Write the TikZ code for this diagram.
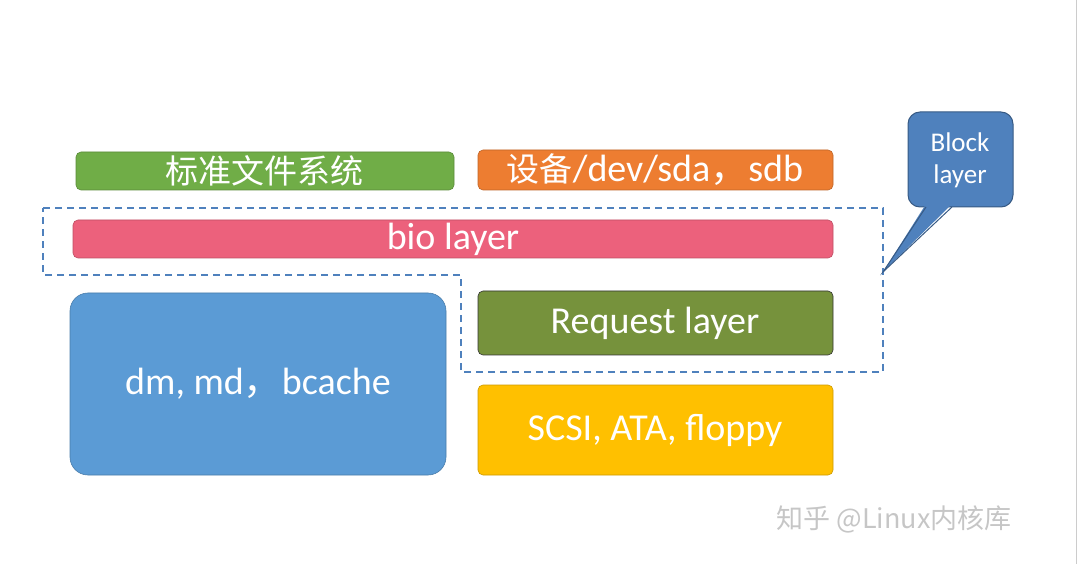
\documentclass[tikz,border=0pt]{standalone}
\usepackage{fontspec}
\setmainfont{Carlito}
\newfontfamily\cjk{Noto Sans CJK SC}
\begin{document}
\begin{tikzpicture}[x=1pt,y=-1pt,
  box/.style={rounded corners=5pt,draw=#1!80!black,line width=0.6pt,fill=#1,text=white,inner sep=0pt},
  lbl/.style={text=white,font=\fontsize{38}{40}\selectfont}]
\useasboundingbox (0,0) rectangle (1080,564);
\definecolor{cgreen}{RGB}{112,173,71}
\definecolor{corange}{RGB}{237,125,49}
\definecolor{cpink}{RGB}{236,97,124}
\definecolor{cblue}{RGB}{91,155,213}
\definecolor{colive}{RGB}{118,146,60}
\definecolor{cyellow}{RGB}{255,192,0}
\definecolor{ccall}{RGB}{79,129,189}
\draw[gray!40] (1076,0) -- (1076,564);
\draw[box=cgreen] (76,152) rectangle (454,190);
\node[lbl,font=\cjk\fontsize{33}{35}\selectfont] (fs) at (264,171) {标准文件系统};
\draw[box=corange] (478,150) rectangle (833,190);
\node[lbl] (dev) at (655,170) {{\cjk\fontsize{33}{35}\selectfont 设备}/dev/sda{\cjk ，}sdb};
\draw[box=cpink] (73,220) rectangle (833,258);
\node[lbl] (bio) at (453,239) {bio layer};
\draw[box=cblue,rounded corners=18pt] (70,293) rectangle (446,475);
\node[lbl] (dm) at (258,384) {dm, md{\cjk ，}bcache};
\draw[box=colive,draw=black!80] (478,291) rectangle (833,355);
\node[lbl] (req) at (655,323) {Request layer};
\draw[box=cyellow] (478,385) rectangle (833,475);
\node[lbl] (scsi) at (655,430) {SCSI, ATA, floppy};
\draw[ccall,line width=1.8pt,dash pattern=on 7pt off 5pt]
  (43,208) -- (883,208) -- (883,372) -- (461,372) -- (461,275) -- (43,275) -- cycle;
\coordinate (tip) at (883,272);
\draw[fill=ccall,draw=ccall!70!black,line width=1pt,rounded corners=12pt]
  (908,112) rectangle (1013,207);
\fill[ccall] (926,204) -- (952,204) -- (tip) -- cycle;
\draw[ccall!70!black,line width=1pt] (926,207) -- (tip) -- (952,207);
\node[text=white,font=\fontsize{27}{32}\selectfont,align=center] (blk) at (960,160) {Block\\layer};
\node[text=gray!45,font=\cjk\fontsize{27}{29}\selectfont,anchor=west] (wm) at (773,519) {知乎 @Linux内核库};
\end{tikzpicture}
\end{document}
